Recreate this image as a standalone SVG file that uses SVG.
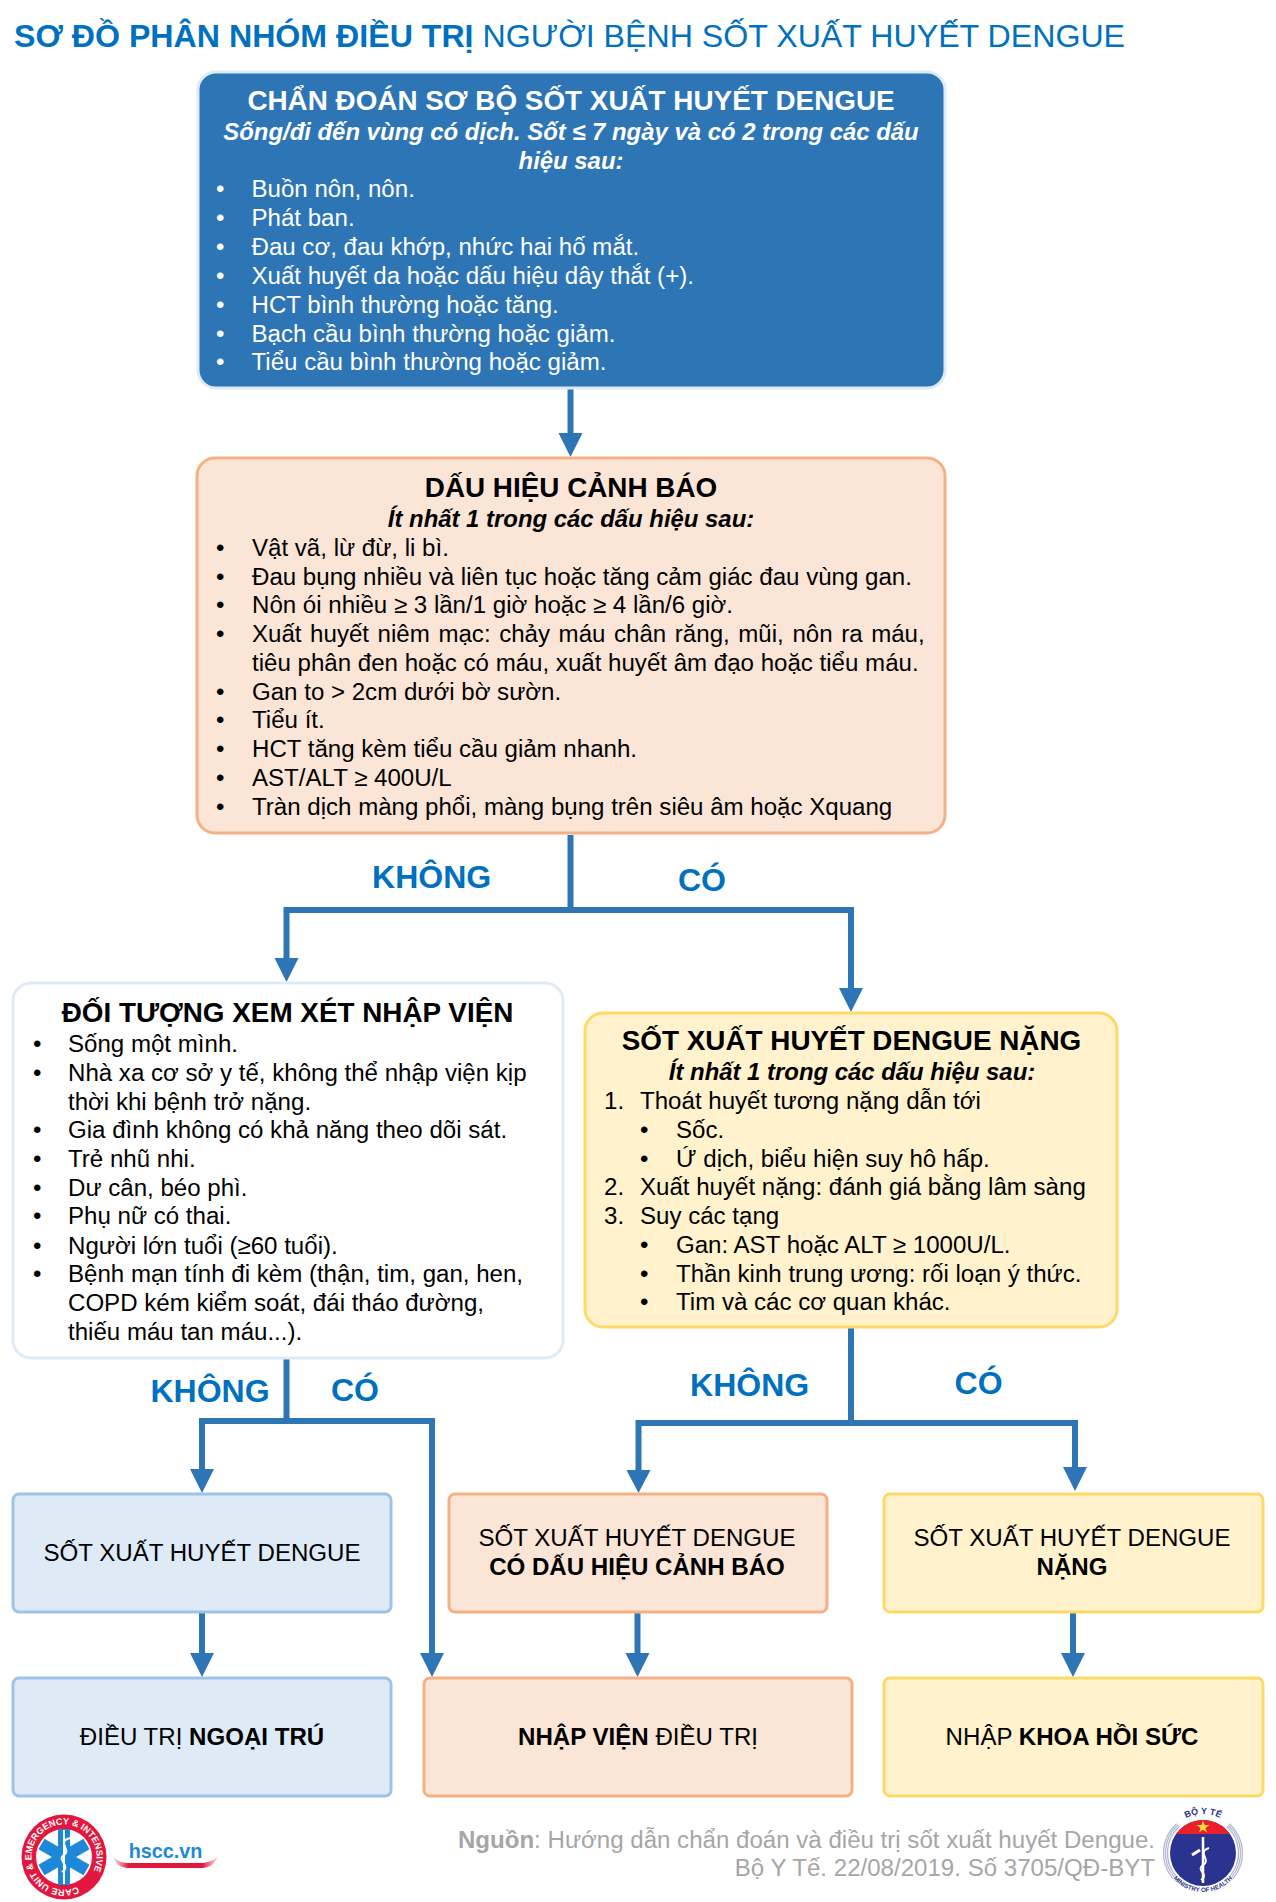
<svg xmlns="http://www.w3.org/2000/svg" width="1276" height="1902" viewBox="0 0 1276 1902">
<defs>
<style>
text{font-family:"Liberation Sans",Arial,sans-serif;font-size:24.08px;fill:#000}
.c{text-anchor:middle}
.h{font-size:27.85px;font-weight:700}
.i{font-size:23.9px;font-style:italic;font-weight:700}
.b{font-weight:700}
.w{fill:#fff}
.lab{font-size:32px;font-weight:700;fill:#0070c0;text-anchor:middle}
.src{fill:#a6a6a6;text-anchor:end}
.con{fill:none;stroke:#2e75b6;stroke-width:6}
.head{fill:#2e75b6}
.blue{fill:#2e75b6;stroke:#deebf7;stroke-width:3}
.org{fill:#fbe5d6;stroke:#f4b183;stroke-width:3}
.yel{fill:#fff2cc;stroke:#ffd966;stroke-width:3}
.lb{fill:#deebf7;stroke:#9dc3e6;stroke-width:3}
.wh{fill:#fff;stroke:#deebf7;stroke-width:3}
.arc{fill:none;stroke:#b4b8d4;stroke-width:1.3}
</style>
<linearGradient id="swoosh" x1="0" x2="1" y1="0" y2="0">
<stop offset="0" stop-color="#e3173e" stop-opacity=".1"/><stop offset=".15" stop-color="#e3173e"/><stop offset=".85" stop-color="#e3173e"/><stop offset="1" stop-color="#e3173e" stop-opacity=".1"/>
</linearGradient>
<path id="arcLogo" d="M77.7 1886.5A32.500 32.500 0 0 1 50.3 1827.500A32.500 32.500 0 0 1 77.7 1886.5"/>
<path id="arcMohTop" d="M1164 1853A39 39 0 0 1 1242 1853"/>
<path id="arcMohBot" d="M1164 1853A39 39 0 0 0 1242 1853"/>
</defs>
<rect width="1276" height="1902" fill="#fff"/>

<g id="title"><text x="14" y="47" style="font-size:32.15px;fill:#0070c0"><tspan font-weight="700">SƠ ĐỒ PHÂN NHÓM ĐIỀU TRỊ</tspan> NGƯỜI BỆNH SỐT XUẤT HUYẾT DENGUE</text></g>

<g id="connectors">
<path class="con" d="M570.5 388V434"/><path class="head" d="M558.5 433H582.5L570.5 457Z"/>
<path class="con" d="M570.5 835V910"/>
<path class="con" d="M286.5 959V910H851V989"/>
<path class="head" d="M274.5 958H298.5L286.5 982Z"/><path class="head" d="M839 988H863L851 1012Z"/>
<path class="con" d="M286.5 1358V1421"/>
<path class="con" d="M202 1470V1421H432V1654"/>
<path class="head" d="M190 1469H214L202 1493Z"/><path class="head" d="M420 1653H444L432 1677Z"/>
<path class="con" d="M851 1328V1423"/>
<path class="con" d="M638.5 1472V1423H1075V1468"/>
<path class="head" d="M626.5 1470H650.5L638.5 1493Z"/><path class="head" d="M1063 1467H1087L1075 1491Z"/>
<path class="con" d="M202 1612V1654"/><path class="head" d="M190 1653H214L202 1677Z"/>
<path class="con" d="M637.5 1612V1654"/><path class="head" d="M625.5 1653H649.5L637.5 1677Z"/>
<path class="con" d="M1073 1612V1654"/><path class="head" d="M1061 1653H1085L1073 1677Z"/>
</g>

<g id="labels">
<text class="lab" x="431.6" y="888">KHÔNG</text>
<text class="lab" x="702" y="891">CÓ</text>
<text class="lab" x="210" y="1402">KHÔNG</text>
<text class="lab" x="355" y="1401">CÓ</text>
<text class="lab" x="749.6" y="1396">KHÔNG</text>
<text class="lab" x="978.6" y="1394">CÓ</text>
</g>

<g id="node-chan-doan">
<rect class="blue" x="198" y="72" width="747" height="316" rx="18"/>
<text class="c h w" x="571" y="110">CHẨN ĐOÁN SƠ BỘ SỐT XUẤT HUYẾT DENGUE</text>
<text class="c i w" x="571" y="140">Sống/đi đến vùng có dịch. Sốt ≤ 7 ngày và có 2 trong các dấu</text>
<text class="c i w" x="571" y="169">hiệu sau:</text>
<text class="w" x="216" y="197">•</text><text class="w" x="251.5" y="197">Buồn nôn, nôn.</text>
<text class="w" x="216" y="226">•</text><text class="w" x="251.5" y="226">Phát ban.</text>
<text class="w" x="216" y="255">•</text><text class="w" x="251.5" y="255">Đau cơ, đau khớp, nhức hai hố mắt.</text>
<text class="w" x="216" y="284">•</text><text class="w" x="251.5" y="284">Xuất huyết da hoặc dấu hiệu dây thắt (+).</text>
<text class="w" x="216" y="313">•</text><text class="w" x="251.5" y="313">HCT bình thường hoặc tăng.</text>
<text class="w" x="216" y="342">•</text><text class="w" x="251.5" y="342">Bạch cầu bình thường hoặc giảm.</text>
<text class="w" x="216" y="370">•</text><text class="w" x="251.5" y="370">Tiểu cầu bình thường hoặc giảm.</text>
</g>

<g id="node-canh-bao">
<rect class="org" x="197" y="458" width="748" height="375" rx="18"/>
<text class="c h" x="571" y="497">DẤU HIỆU CẢNH BÁO</text>
<text class="c i" x="571" y="527">Ít nhất 1 trong các dấu hiệu sau:</text>
<text x="216" y="556">•</text><text x="252" y="556">Vật vã, lừ đừ, li bì.</text>
<text x="216" y="585">•</text><text x="252" y="585">Đau bụng nhiều và liên tục hoặc tăng cảm giác đau vùng gan.</text>
<text x="216" y="613">•</text><text x="252" y="613">Nôn ói nhiều ≥ 3 lần/1 giờ hoặc ≥ 4 lần/6 giờ.</text>
<text x="216" y="642">•</text><text x="252" y="642" word-spacing="1.9">Xuất huyết niêm mạc: chảy máu chân răng, mũi, nôn ra máu,</text>
<text x="252" y="671">tiêu phân đen hoặc có máu, xuất huyết âm đạo hoặc tiểu máu.</text>
<text x="216" y="700">•</text><text x="252" y="700">Gan to &gt; 2cm dưới bờ sườn.</text>
<text x="216" y="728">•</text><text x="252" y="728">Tiểu ít.</text>
<text x="216" y="757">•</text><text x="252" y="757">HCT tăng kèm tiểu cầu giảm nhanh.</text>
<text x="216" y="786">•</text><text x="252" y="786">AST/ALT ≥ 400U/L</text>
<text x="216" y="815">•</text><text x="252" y="815">Tràn dịch màng phổi, màng bụng trên siêu âm hoặc Xquang</text>
</g>

<g id="node-doi-tuong">
<rect class="wh" x="13" y="983" width="550" height="375" rx="18"/>
<text class="c h" x="287.5" y="1022">ĐỐI TƯỢNG XEM XÉT NHẬP VIỆN</text>
<text x="33" y="1052">•</text><text x="68" y="1052">Sống một mình.</text>
<text x="33" y="1081">•</text><text x="68" y="1081">Nhà xa cơ sở y tế, không thể nhập viện kịp</text>
<text x="68" y="1110">thời khi bệnh trở nặng.</text>
<text x="33" y="1138">•</text><text x="68" y="1138">Gia đình không có khả năng theo dõi sát.</text>
<text x="33" y="1167">•</text><text x="68" y="1167">Trẻ nhũ nhi.</text>
<text x="33" y="1196">•</text><text x="68" y="1196">Dư cân, béo phì.</text>
<text x="33" y="1224">•</text><text x="68" y="1224">Phụ nữ có thai.</text>
<text x="33" y="1254">•</text><text x="68" y="1254">Người lớn tuổi (≥60 tuổi).</text>
<text x="33" y="1282">•</text><text x="68" y="1282">Bệnh mạn tính đi kèm (thận, tim, gan, hen,</text>
<text x="68" y="1311">COPD kém kiểm soát, đái tháo đường,</text>
<text x="68" y="1340">thiếu máu tan máu...).</text>
</g>

<g id="node-nang">
<rect class="yel" x="585" y="1013" width="532" height="314" rx="18"/>
<text class="c h" x="851.500" y="1050">SỐT XUẤT HUYẾT DENGUE NẶNG</text>
<text class="c i" x="852" y="1080">Ít nhất 1 trong các dấu hiệu sau:</text>
<text x="604" y="1109">1.</text><text x="640" y="1109">Thoát huyết tương nặng dẫn tới</text>
<text x="640" y="1138">•</text><text x="676" y="1138">Sốc.</text>
<text x="640" y="1167">•</text><text x="676" y="1167">Ứ dịch, biểu hiện suy hô hấp.</text>
<text x="604" y="1195">2.</text><text x="640" y="1195">Xuất huyết nặng: đánh giá bằng lâm sàng</text>
<text x="604" y="1224">3.</text><text x="640" y="1224">Suy các tạng</text>
<text x="640" y="1253">•</text><text x="676" y="1253">Gan: AST hoặc ALT ≥ 1000U/L.</text>
<text x="640" y="1282">•</text><text x="676" y="1282">Thần kinh trung ương: rối loạn ý thức.</text>
<text x="640" y="1310">•</text><text x="676" y="1310">Tim và các cơ quan khác.</text>
</g>

<g id="node-sxh"><rect class="lb" x="13" y="1494" width="378" height="118" rx="6"/>
<text class="c" x="202" y="1561">SỐT XUẤT HUYẾT DENGUE</text></g>
<g id="node-sxh-cb"><rect class="org" x="449" y="1494" width="378" height="118" rx="6"/>
<text class="c" x="637" y="1546">SỐT XUẤT HUYẾT DENGUE</text>
<text class="c b" x="637" y="1575">CÓ DẤU HIỆU CẢNH BÁO</text></g>
<g id="node-sxh-nang"><rect class="yel" x="884" y="1494" width="379" height="118" rx="6"/>
<text class="c" x="1072" y="1546">SỐT XUẤT HUYẾT DENGUE</text>
<text class="c b" x="1072" y="1575">NẶNG</text></g>

<g id="node-ngoai-tru"><rect class="lb" x="13" y="1678" width="378" height="118" rx="6"/>
<text class="c" x="202" y="1745">ĐIỀU TRỊ <tspan class="b">NGOẠI TRÚ</tspan></text></g>
<g id="node-nhap-vien"><rect class="org" x="424" y="1678" width="428" height="118" rx="6"/>
<text class="c" x="638" y="1745"><tspan class="b">NHẬP VIỆN</tspan> ĐIỀU TRỊ</text></g>
<g id="node-hoi-suc"><rect class="yel" x="884" y="1678" width="379" height="118" rx="6"/>
<text class="c" x="1072" y="1745">NHẬP <tspan class="b">KHOA HỒI SỨC</tspan></text></g>

<g id="source">
<text class="src" x="1155" y="1848"><tspan class="b">Nguồn</tspan>: Hướng dẫn chẩn đoán và điều trị sốt xuất huyết Dengue.</text>
<text class="src" x="1155" y="1876">Bộ Y Tế. 22/08/2019. Số 3705/QĐ-BYT</text>
</g>

<g id="logo-hscc">
<circle cx="64" cy="1857" r="42.5" fill="#e3173e"/>
<circle cx="64" cy="1857" r="28" fill="#fff"/>
<g fill="#1e88d8"><rect x="58" y="1829" width="12" height="56"/><rect x="58" y="1831" width="12" height="52" transform="rotate(60 64 1857)"/><rect x="58" y="1831" width="12" height="52" transform="rotate(120 64 1857)"/></g>
<path d="M64 1830V1884" stroke="#fff" stroke-width="2"/>
<path d="M70 1838C56 1842 72 1850 64 1855C56 1860 72 1866 62 1872" fill="none" stroke="#fff" stroke-width="2"/>
<text style="font-size:9.2px;font-weight:700;fill:#fff"><textPath href="#arcLogo">CARE UNIT &amp; EMERGENCY &amp; INTENSIVE</textPath></text>
<path d="M113 1856C116 1866 122 1868 130 1868H200C208 1868 214 1866 218 1856C212 1862 206 1863 200 1863H130C122 1863 118 1862 113 1856Z" fill="url(#swoosh)"/>
<text x="165.5" y="1858" style="font-size:19.8px;font-weight:700;fill:#1e88d8;text-anchor:middle">hscc.vn</text>
</g>

<g id="logo-moh">
<path class="arc" d="M1179.2 1826.6A35.5 35.5 0 0 0 1175.800 1875.800M1226.800 1826.6A35.5 35.5 0 0 1 1230.2 1875.800"/>
<path class="arc" d="M1177.900 1825.100A37.5 37.5 0 0 0 1174.300 1877.100M1228.100 1825.100A37.5 37.5 0 0 1 1231.700 1877.100"/>
<path class="arc" d="M1176.600 1823.700A39.5 39.5 0 0 0 1172.700 1878.400M1229.400 1823.700A39.5 39.5 0 0 1 1233.300 1878.400"/>
<circle cx="1203" cy="1853" r="33" fill="#2b3390"/>
<path d="M1176 1834A33 33 0 0 1 1230 1834Z" fill="#e8202a"/>
<path d="M1203 1820.500l1.600 4.600h4.800l-3.900 2.900 1.500 4.600-4-2.900-4 2.900 1.500-4.600-3.900-2.900h4.800z" fill="#ffd93b"/>
<path d="M1203 1837V1883" stroke="#fff" stroke-width="2.500"/>
<path d="M1209 1848C1196 1852 1212 1860 1203 1865C1195 1870 1210 1874 1201 1880" fill="none" stroke="#fff" stroke-width="2"/>
<path d="M1200 1850L1192 1855" stroke="#fff" stroke-width="3"/>
<text style="font-size:9px;font-weight:700;fill:#2b3390;text-anchor:middle"><textPath href="#arcMohTop" startOffset="50%">BỘ Y TẾ</textPath></text>
<text style="font-size:6.3px;font-weight:700;fill:#2b3390;text-anchor:middle"><textPath href="#arcMohBot" startOffset="50%">MINISTRY OF HEALTH</textPath></text>
</g>
</svg>
